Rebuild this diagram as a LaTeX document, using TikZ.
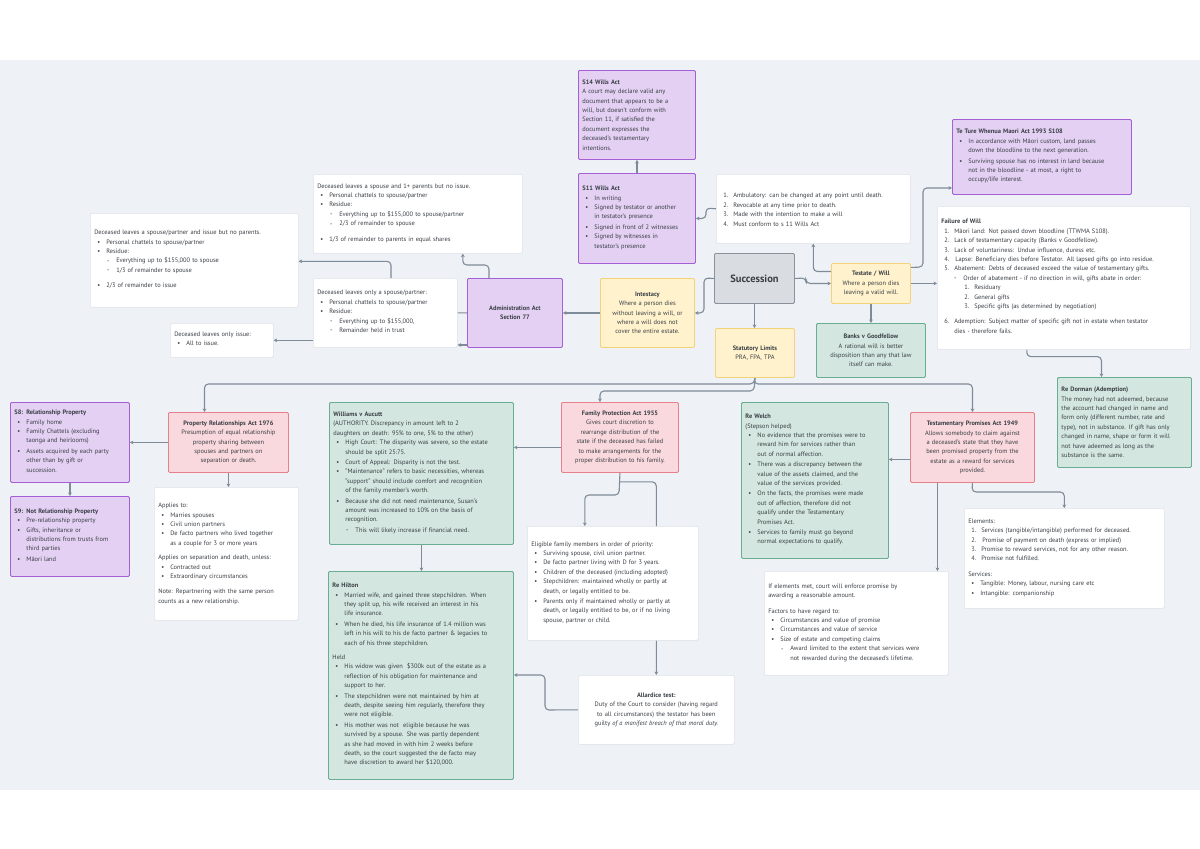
\documentclass[tikz,border=0pt]{standalone}
\usepackage{fontspec}
\setmainfont{PT Sans}
\usetikzlibrary{arrows.meta,calc}
\setlength\parindent{0pt}
\definecolor{panel}{HTML}{EEF2F6}
\definecolor{linec}{HTML}{7E8B98}
\definecolor{txt}{HTML}{3A3F45}
\definecolor{pfill}{HTML}{E3D0F3}\definecolor{pdraw}{HTML}{A660D6}
\definecolor{rfill}{HTML}{F9D9DE}\definecolor{rdraw}{HTML}{E8808C}
\definecolor{gfill}{HTML}{D3E6DF}\definecolor{gdraw}{HTML}{6AAE92}
\definecolor{yfill}{HTML}{FFF2CC}\definecolor{ydraw}{HTML}{F3D27A}
\definecolor{sfill}{HTML}{D9DDE2}\definecolor{sdraw}{HTML}{8A939C}
\definecolor{wdraw}{HTML}{DCE2E8}
\newcommand\brk{\newline}
\newcommand\itm[3]{\par\noindent\strut\hspace*{#1}\makebox[#2][l]{#3}}
\newcommand\bu[1]{\itm{3pt}{9pt}{\textbullet}\parbox[t]{\dimexpr\hsize-12pt}{\raggedright\strut #1\strut}}
\newcommand\bub[1]{\itm{13pt}{9pt}{\raisebox{0.6pt}{\scalebox{0.6}{\textbullet}}}\parbox[t]{\dimexpr\hsize-22pt}{\raggedright\strut #1\strut}}
\newcommand\numi[2]{\itm{3pt}{10pt}{#1}\parbox[t]{\dimexpr\hsize-13pt}{\raggedright\strut #2\strut}}
\newcommand\numii[2]{\itm{23pt}{10pt}{#1}\parbox[t]{\dimexpr\hsize-33pt}{\raggedright\strut #2\strut}}
\newcommand\gap{\par\vspace{6pt}}
\newcommand\hd[1]{\textbf{#1}\par}
\pgfdeclarelayer{bg}\pgfdeclarelayer{edges}\pgfsetlayers{bg,edges,main}
\tikzset{
 box/.style={anchor=north west, inner sep=4pt, line width=0.9pt, rounded corners=1.2pt, text=txt,
   font=\fontsize{6.4}{9.4}\selectfont},
 lbox/.style={box, align=left},
 cbox/.style={box, align=center},
 wb/.style={fill=white, draw=wdraw, line width=0.6pt},
 pb/.style={fill=pfill, draw=pdraw},
 rb/.style={fill=rfill, draw=rdraw},
 gb/.style={fill=gfill, draw=gdraw},
 yb/.style={fill=yfill, draw=ydraw},
 sz/.style args={#1x#2}{minimum width=#1, minimum height=#2, text width=#1-8},
 conn/.style={draw=linec, line width=1.1pt, rounded corners=4pt, -{Stealth[length=3.5pt,width=3.8pt]}}
}
\begin{document}
\begin{tikzpicture}[x=1pt,y=-1pt]
\useasboundingbox (0,0) rectangle (1200,849);
\begin{pgfonlayer}{bg}
\fill[white] (0,0) rectangle (1200,849);
\fill[panel] (0,60) rectangle (1200,790);
\end{pgfonlayer}

\node[lbox,pb,sz=117x89] (s14) at (578,70) {\hd{S14 Wills Act}A court may declare valid any\brk document that appears to be a\brk will, but doesn't conform with\brk Section 11, if satisfied the\brk document expresses the\brk deceased's testamentary\brk intentions.};
\node[lbox,pb,sz=117x90] (s11) at (578,173) {\hd{S11 Wills Act}\bu{In writing}\bu{Signed by testator or another\brk in testator's presence}\bu{Signed in front of 2 witnesses}\bu{Signed by witnesses in\brk testator's presence}};
\node[lbox,wb,sz=194x69] (amb) at (716,174) {\numi{1.}{Ambulatory: can be changed at any point until death.}\numi{2.}{Revocable at any time prior to death.}\numi{3.}{Made with the intention to make a will}\numi{4.}{Must conform to s 11 Wills Act}};
\node[cbox,fill=sfill,draw=sdraw,sz=80x50,font=\fontsize{10.5}{12}\selectfont\bfseries] (succ) at (714,253) {Succession};
\node[cbox,yb,sz=79x40] (test) at (831,263) {\textbf{Testate / Will}\\Where a person dies\\leaving a valid will.};
\node[cbox,yb,sz=94x69] (intes) at (600,278) {\textbf{Intestacy}\\Where a person dies\\without leaving a will, or\\where a will does not\\cover the entire estate.};
\node[cbox,yb,sz=79x49] (stat) at (715,328) {\textbf{Statutory Limits}\\PRA, FPA, TPA};
\node[cbox,gb,sz=109x54] (banks) at (816,323) {\textbf{Banks v Goodfellow}\\A rational will is better\\disposition than any that law\\itself can make.};
\node[lbox,pb,sz=179x75] (teture) at (952,119) {\hd{Te Ture Whenua Maori Act 1993 S108}\bu{In accordance with Māori custom, land passes\brk down the bloodline to the next generation.}\bu{Surviving spouse has no interest in land because\brk not in the bloodline - at most, a right to\brk occupy/life interest.}};
\node[lbox,wb,sz=253x143] (fail) at (937,206) {\hd{Failure of Will}\numi{1.}{Māori land: Not passed down bloodline (TTWMA S108).}\numi{2.}{Lack of testamentary capacity (Banks v Goodfellow).}\numi{3.}{Lack of voluntariness: Undue influence, duress etc.}\numi{4.}{\,Lapse: Beneficiary dies before Testator. All lapsed gifts go into residue.}\numi{5.}{Abatement: Debts of deceased exceed the value of testamentary gifts.}\bub{Order of abatement - if no direction in will, gifts abate in order:}\numii{1.}{Residuary}\numii{2.}{General gifts}\numii{3.}{Specific gifts (as determined by negotiation)}\gap\numi{6.}{Ademption: Subject matter of specific gift not in estate when testator\brk dies - therefore fails.}};
\node[lbox,gb,sz=134x90] (dorman) at (1057,377) {\hd{Re Dorman (Ademption)}The money had not adeemed, because\brk the account had changed in name and\brk form only (different number, rate and\brk type), not in substance. If gift has only\brk changed in name, shape or form it will\brk not have adeemed as long as the\brk substance is the same.};
\node[cbox,pb,sz=95x69] (admin) at (467,278) {\textbf{Administration Act}\\\textbf{Section 77}};
\node[lbox,wb,sz=209x79] (par) at (313,174) {Deceased leaves a spouse and 1+ parents but no issue.\bu{Personal chattels to spouse/partner}\bu{Residue:}\bub{Everything up to \$155,000 to spouse/partner}\bub{2/3 of remainder to spouse}\gap\bu{1/3 of remainder to parents in equal shares}};
\node[lbox,wb,sz=208x94] (iss) at (90,213) {Deceased leaves a spouse/partner and issue but no parents.\bu{Personal chattels to spouse/partner}\bu{Residue:}\bub{Everything up to \$155,000 to spouse}\bub{1/3 of remainder to spouse}\gap\bu{2/3 of remainder to issue}};
\node[lbox,wb,sz=144x69] (osp) at (313,278) {Deceased leaves only a spouse/partner:\bu{Personal chattels to spouse/partner}\bu{Residue:}\bub{Everything up to \$155,000,}\bub{Remainder held in trust}};
\node[lbox,wb,sz=103x34] (oiss) at (170,323) {Deceased leaves only issue:\bu{All to issue.}};
\node[lbox,pb,sz=119x80] (s8) at (10,402) {\hd{S8: Relationship Property}\bu{Family home}\bu{Family Chattels (excluding\brk taonga and heirlooms)}\bu{Assets acquired by each party\brk other than by gift or\brk succession.}};
\node[lbox,pb,sz=119x80] (s9) at (10,496) {\hd{S9: Not Relationship Property}\bu{Pre-relationship property}\bu{Gifts, inheritance or\brk distributions from trusts from\brk third parties}\bu{Māori land}};
\node[cbox,rb,sz=120x60] (pra) at (168,412) {\textbf{Property Relationships Act 1976}\\Presumption of equal relationship\\property sharing between\\spouses and partners on\\separation or death.};
\node[lbox,wb,sz=144x133] (app) at (154,487) {Applies to:\bu{Marries spouses}\bu{Civil union partners}\bu{De facto partners who lived together\brk as a couple for 3 or more years}\gap Applies on separation and death, unless:\bu{Contracted out}\bu{Extraordinary circumstances}\gap Note: Repartnering with the same person\brk counts as a new relationship.};
\node[lbox,gb,sz=184x142] (will) at (329,402) {\hd{Williams v Aucutt}(AUTHORITY. Discrepancy in amount left to 2\brk daughters on death: 95\% to one, 5\% to the other)\bu{High Court: The disparity was severe, so the estate\brk should be split 25:75.}\bu{Court of Appeal: Disparity is not the test.}\bu{"Maintenance" refers to basic necessities, whereas\brk "support" should include comfort and recognition\brk of the family member's worth.}\bu{Because she did not need maintenance, Susan's\brk amount was increased to 10\% on the basis of\brk recognition.}\bub{This will likely increase if financial need.}};
\node[lbox,gb,sz=185x208] (hil) at (328,571) {\hd{Re Hilton}\bu{Married wife, and gained three stepchildren. When\brk they split up, his wife received an interest in his\brk life insurance.}\bu{When he died, his life insurance of 1.4 million was\brk left in his will to his de facto partner \& legacies to\brk each of his three stepchildren.}\gap Held\bu{His widow was given \ \$300k out of the estate as a\brk reflection of his obligation for maintenance and\brk support to her.}\bu{The stepchildren were not maintained by him at\brk death, despite seeing him regularly, therefore they\brk were not eligible.}\bu{His mother was not \ eligible because he was\brk survived by a spouse. She was partly dependent\brk as she had moved in with him 2 weeks before\brk death, so the court suggested the de facto may\brk have discretion to award her \$120,000.}};
\node[cbox,rb,sz=117x70] (fpa) at (561,402) {\textbf{Family Protection Act 1955}\\Gives court discretion to\\rearrange distribution of the\\state if the deceased has failed\\to make arrangements for the\\proper distribution to his family.};
\node[lbox,wb,sz=171x114] (elig) at (527,526) {Eligible family members in order of priority:\bu{Surviving spouse, civil union partner.}\bu{De facto partner living with D for 3 years.}\bu{Children of the deceased (including adopted)}\bu{Stepchildren: maintained wholly or partly at\brk death, or legally entitled to be.}\bu{Parents only if maintained wholly or partly at\brk death, or legally entitled to be, or if no living\brk spouse, partner or child.}};
\node[cbox,wb,sz=156x69] (all) at (578,675) {\textbf{Allardice test:}\\Duty of the Court to consider (having regard\\to all circumstances) the testator has been\\guilty \textit{of a manifest breach of that moral duty.}};
\node[lbox,gb,sz=147x156] (welch) at (741,402) {\hd{Re Welch}(Stepson helped)\bu{No evidence that the promises were to\brk reward him for services rather than\brk out of normal affection.}\bu{There was a discrepancy between the\brk value of the assets claimed, and the\brk value of the services provided.}\bu{On the facts, the promises were made\brk out of affection, therefore did not\brk qualify under the Testamentary\brk Promises Act.}\bu{Services to family must go beyond\brk normal expectations to qualify.}};
\node[cbox,rb,sz=124x70] (tpa) at (910,412) {\textbf{Testamentary Promises Act 1949}\\Allows somebody to claim against\\a deceased's state that they have\\been promised property from the\\estate as a reward for services\\provided.};
\node[lbox,wb,sz=200x100] (elem) at (964,508) {Elements:\numi{1.}{Services (tangible/intangible) performed for deceased.}\numi{2.}{\,Promise of payment on death (express or implied)}\numi{3.}{Promise to reward services, not for any other reason.}\numi{4.}{Promise not fulfilled.}\gap Services:\bu{Tangible: Money, labour, nursing care etc}\bu{Intangible: companionship}};
\node[lbox,wb,sz=184x104] (ifel) at (764,571) {If elements met, court will enforce promise by\brk awarding a reasonable amount.\gap Factors to have regard to:\bu{Circumstances and value of promise}\bu{Circumstances and value of service}\bu{Size of estate and competing claims}\bub{Award limited to the extent that services were\brk not rewarded during the deceased's lifetime.}};

\begin{pgfonlayer}{edges}
\draw[conn] (succ.east) -- (806,278) |- (test.west);
\draw[conn] (succ.west) -- (704,278) |- (intes.east);
\draw[conn] (succ.south) -- (succ.south |- stat.north);
\draw[conn] (test.south) -- (test.south |- banks.north);
\draw[conn] ([yshift=12]test.west) -| (amb.south);
\draw[conn] (amb.west) -- (706,208) |- (s11.east);
\draw[conn] (s11.north) -- (s14.south);
\draw[conn] ([yshift=16]test.east) -- (923,267) |- ([yshift=-31]teture.west);
\draw[conn] (test.east) -- (test.east -| fail.west);
\draw[conn] ([xshift=-37]fail.south) -- ++(0,7) -| ([xshift=-23]dorman.north);
\draw[conn] (intes.west) -- (admin.east);
\draw[conn] ([xshift=-26]admin.north) -- ++(0,-13) -| ([xshift=45]par.south);
\draw[conn] (admin.west) -- (391,312) |- ([yshift=-1]iss.east);
\draw[conn] ([yshift=-32]admin.west) -- ([yshift=-32]admin.west -| osp.east);
\draw[conn] (osp.west |- oiss.east) -- (oiss.east);
\draw[conn] (stat.south) -- (754,384) -| ([xshift=-24]pra.north);
\draw[conn] (stat.south) -- (754,384) -| (tpa.north);
\draw[conn] (stat.south) -- (754,391) -| ([xshift=-20]fpa.north);
\draw[conn] (pra.west) -- (pra.west -| s8.east);
\draw[conn] (s8.south) -- (s9.north);
\draw[conn] (pra.south) -- (pra.south |- app.north);
\draw[conn] ([yshift=-10]fpa.west) -- ([yshift=-10]fpa.west -| will.east);
\draw[conn] (will.south) -- (will.south |- hil.north);
\draw[conn] (fpa.south) -- (619,495) -| ([xshift=-28]elig.north);
\draw[conn] ([yshift=-9]fpa.south) -| (all.north);
\draw[conn] (all.west) -- (545,710) |- (hil.east |- 0,675);
\draw[conn] ([yshift=-12]tpa.west) -- ([yshift=-12]tpa.west -| welch.east);
\draw[conn] ([xshift=-35]tpa.south) -- ([xshift=-35]tpa.south |- ifel.north);
\draw[conn] (tpa.south) -- (972,492) -| (elem.north);
\end{pgfonlayer}
\end{tikzpicture}
\end{document}
